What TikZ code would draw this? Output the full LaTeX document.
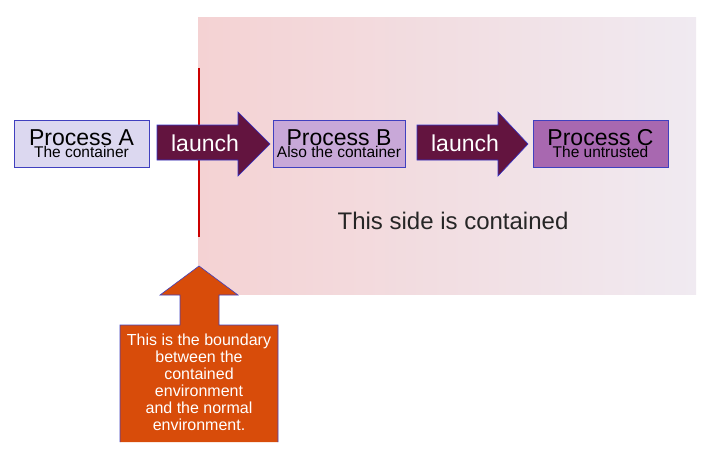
\documentclass[tikz,border=0pt]{standalone}
\usepackage{fontspec}
\setmainfont{Liberation Sans}
\begin{document}
\begin{tikzpicture}[x=1pt,y=-1pt,
 proc/.style={draw=blue!50!gray,line width=0.6pt,minimum width=135pt,minimum height=47pt,inner sep=0pt,align=center},
 arr/.style={fill=arrfill,draw=blue!60!gray,line width=0.6pt},
 big/.style={font=\fontsize{23}{25}\selectfont}]
\definecolor{arrfill}{HTML}{63143F}
\definecolor{bgl}{HTML}{F4D2D3}
\definecolor{bgr}{HTML}{F0EAF1}
\definecolor{orng}{HTML}{D84C0A}
\useasboundingbox (0,0) rectangle (712,460);
\fill[left color=bgl,right color=bgr] (198,18) rectangle (696,294);
\draw[red!80!black,line width=1.5pt] (199,68) -- (199,237);
\node[proc,fill={rgb,255:red,220;green,216;blue,240}] (A) at (81.5,143.5) {\fontsize{23}{23}\selectfont Process A\\\fontsize{15.5}{18}\selectfont The container};
\node[proc,minimum width=132pt,fill={rgb,255:red,200;green,168;blue,216}] (B) at (339,143.5) {\fontsize{23}{23}\selectfont Process B\\\fontsize{15.5}{18}\selectfont Also the container};
\node[proc,fill={rgb,255:red,168;green,104;blue,176}] (C) at (600.5,143.5) {\fontsize{23}{23}\selectfont Process C\\\fontsize{15.5}{18}\selectfont The untrusted};
\draw[arr] (157,125) -- (238,125) -- (238,112) -- (270,144) -- (238,176) -- (238,160) -- (157,160) -- cycle;
\node[big,text=white] (l1) at (205,143) {launch};
\draw[arr] (417,125) -- (498,125) -- (498,112) -- (528,144) -- (498,176) -- (498,160) -- (417,160) -- cycle;
\node[big,text=white] (l2) at (465,143) {launch};
\node[font=\fontsize{24}{26}\selectfont,text=black!85] (t) at (453,221) {This side is contained};
\draw[fill=orng,draw=blue!50!gray,line width=0.6pt] (120,442) -- (120,325) -- (180,325) -- (180,295) -- (160,295) -- (199,266) -- (238,295) -- (219,295) -- (219,325) -- (278,325) -- (278,442);
\node[text=white,align=center,font=\fontsize{16}{17}\selectfont,anchor=north] (n) at (199,330) {This is the boundary\\between the\\contained\\environment\\and the normal\\environment.};
\end{tikzpicture}
\end{document}
